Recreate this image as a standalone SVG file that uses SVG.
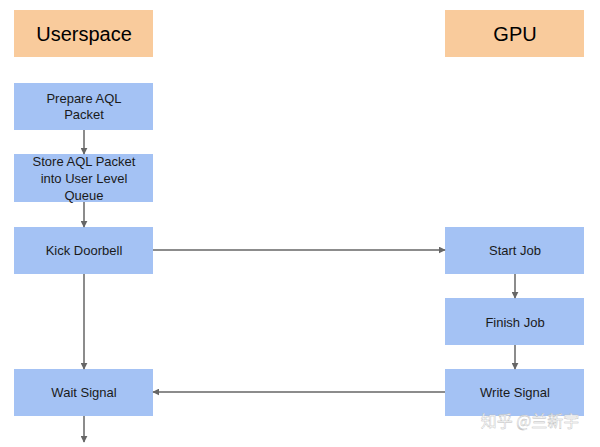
<svg xmlns="http://www.w3.org/2000/svg" width="600" height="447" viewBox="0 0 600 447">
<defs>
<style>
.hdr{fill:#f9cb9c}
.box{fill:#a4c2f4}
.ht{font-family:"Liberation Sans",Arial,sans-serif;font-size:20px;fill:#000;text-anchor:middle}
.t{font-family:"Liberation Sans",Arial,sans-serif;font-size:13px;fill:#1a1a1a;text-anchor:middle}
.c{stroke:#666;stroke-width:1.5;fill:none;marker-end:url(#a)}
</style>
<marker id="a" viewBox="0 0 10 10" refX="9" refY="5" markerWidth="7" markerHeight="7" markerUnits="userSpaceOnUse" orient="auto"><path d="M0,0L10,5L0,10z" fill="#666"/></marker>
</defs>
<rect width="600" height="447" fill="#fff"/>
<g id="userspace"><rect class="hdr" x="14" y="10" width="139" height="47"/><text class="ht" x="84" y="41">Userspace</text></g>
<g id="gpu"><rect class="hdr" x="445" y="10" width="139" height="47"/><text class="ht" x="515" y="41">GPU</text></g>
<g id="prepare"><rect class="box" x="14" y="83" width="139" height="47"/><text class="t" x="84" y="103">Prepare AQL</text><text class="t" x="84" y="119">Packet</text></g>
<g id="store"><rect class="box" x="14" y="154" width="139" height="48"/><text class="t" x="84" y="166">Store AQL Packet</text><text class="t" x="84" y="183">into User Level</text><text class="t" x="84" y="200">Queue</text></g>
<g id="kick"><rect class="box" x="14" y="227" width="139" height="47"/><text class="t" x="84" y="255">Kick Doorbell</text></g>
<g id="start"><rect class="box" x="445" y="227" width="139" height="47"/><text class="t" x="515" y="255">Start Job</text></g>
<g id="finish"><rect class="box" x="445" y="298" width="139" height="47"/><text class="t" x="515" y="327">Finish Job</text></g>
<g id="write"><rect class="box" x="445" y="369" width="139" height="47"/><text class="t" x="515" y="397">Write Signal</text></g>
<g id="wait"><rect class="box" x="14" y="369" width="139" height="47"/><text class="t" x="84" y="397">Wait Signal</text></g>
<g id="connectors">
<path class="c" d="M84,130V154"/>
<path class="c" d="M84,202V227"/>
<path class="c" d="M153,250H445"/>
<path class="c" d="M84,274V369"/>
<path class="c" d="M515,274V298"/>
<path class="c" d="M515,345V369"/>
<path class="c" d="M445,392H153"/>
<path class="c" d="M84,416V442"/>
</g>
<text x="530" y="427" font-family="Noto Sans CJK SC,sans-serif" font-size="16" fill="#fff" fill-opacity="0.9" stroke="#bbb" stroke-width="0.4" text-anchor="middle">知乎 @兰新宇</text>
</svg>
